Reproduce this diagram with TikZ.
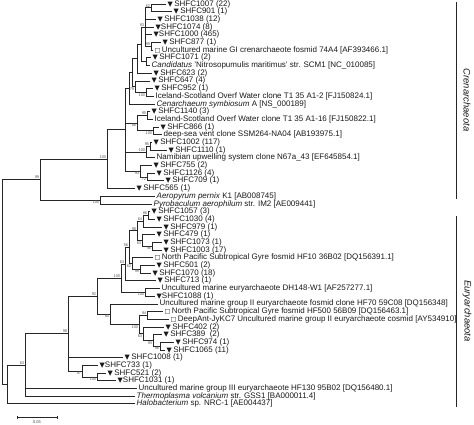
\documentclass[tikz,border=0pt]{standalone}
\usepackage{fontspec}
\setmainfont{Liberation Sans}
\newfontfamily\symf{DejaVu Sans}
\usetikzlibrary{calc}
\newcommand\mytri{{\symf\fontsize{6.8}{6.8}\selectfont ▼}}
\newcommand\mysq{{\symf\fontsize{6.2}{6.2}\selectfont □}}
\newcommand\leaf[4]{\coordinate (l#1) at (#2,#3); \node[lf] (t#1) at (l#1) {#4};}
\newcommand\inode[4]{\path ($(#3)!.5!(#4)$) coordinate (mid); \coordinate (#1) at (#2,0 |- mid);}
\newcommand\edges[2]{\foreach \c in {#2}{\draw[br] (#1) |- (\c);}}
\newcommand\bsl[3]{\node[bs,#2] (b#1) at (#1) {#3};}
\begin{document}
\begin{tikzpicture}[x=1pt,y=-1pt,
  br/.style={line width=0.8pt, draw=black!85},
  lf/.style={anchor=west, inner sep=0pt, xshift=1.5pt, font=\fontsize{8}{8}\selectfont, text=black!90},
  bs/.style={font=\fontsize{4}{4}\selectfont, text=black!65, inner sep=0.6pt},
  clade/.style={rotate=-90, font=\fontsize{9.5}{9.5}\selectfont\itshape, text=black!90, inner sep=0pt}]
\useasboundingbox (0,0) rectangle (474,424);
% ---------- leaves ----------
\leaf{1}{166}{4.00}{\mytri\,SHFC1007 (22)}
\leaf{2}{172}{11.69}{\mytri\,SHFC901 (1)}
\leaf{3}{156}{19.38}{\mytri\,SHFC1038 (12)}
\leaf{4}{154}{27.07}{\mytri SHFC1074 (8)}
\leaf{5}{152}{34.76}{\mytri SHFC1000 (465)}
\leaf{6}{161}{42.45}{\mytri\,SHFC877 (1)}
\leaf{7}{153}{50.14}{\mysq\,Uncultured marine GI crenarchaeote fosmid 74A4 [AF393466.1]}
\leaf{8}{151}{57.83}{\mytri\,SHFC1071 (2)}
\leaf{9}{150}{65.52}{\textit{Candidatus} 'Nitrosopumulis maritimus' str. SCM1 [NC\_010085]}
\leaf{10}{152}{73.21}{\mytri\,SHFC623 (2)}
\leaf{11}{150}{80.90}{\mytri\,SHFC647 (4)}
\leaf{12}{153}{88.59}{\mytri\,SHFC952 (1)}
\leaf{13}{154}{96.28}{Iceland-Scotland Overf Water clone T1 35 A1-2 [FJ150824.1]}
\leaf{14}{155}{103.97}{\textit{Cenarchaeum symbiosum} A [NS\_000189]}
\leaf{15}{150}{111.66}{\mytri\,SHFC1140 (3)}
\leaf{16}{153}{119.35}{Iceland-Scotland Overf Water clone T1 35 A1-16 [FJ150822.1]}
\leaf{17}{159}{127.04}{\mytri\,SHFC866 (1)}
\leaf{18}{162}{134.73}{deep-sea vent clone SSM264-NA04 [AB193975.1]}
\leaf{19}{152}{142.42}{\mytri\,SHFC1002 (117)}
\leaf{20}{167}{150.11}{\mytri\,SHFC1110 (1)}
\leaf{21}{155}{157.80}{Namibian upwelling system clone N67a\_43 [EF645854.1]}
\leaf{22}{152}{165.49}{\mytri\,SHFC755 (2)}
\leaf{23}{155}{173.18}{\mytri\,SHFC1126 (4)}
\leaf{24}{164}{180.87}{\mytri\,SHFC709 (1)}
\leaf{25}{135}{188.56}{\mytri\,SHFC565 (1)}
\leaf{26}{155}{196.25}{\textit{Aeropyrum pernix} K1 [AB008745]}
\leaf{27}{152}{203.94}{\textit{Pyrobaculum aerophilum} str. IM2 [AE009441]}
\leaf{28}{150}{211.63}{\mytri\,SHFC1057 (3)}
\leaf{29}{155}{219.32}{\mytri\,SHFC1030 (4)}
\leaf{30}{162}{227.01}{\mytri\,SHFC979 (1)}
\leaf{31}{155}{234.70}{\mytri\,SHFC479 (1)}
\leaf{32}{162}{242.39}{\mytri\,SHFC1073 (1)}
\leaf{33}{162}{250.08}{\mytri\,SHFC1003 (17)}
\leaf{34}{153}{257.77}{\mysq\,North Pacific Subtropical Gyre fosmid HF10 36B02 [DQ156391.1]}
\leaf{35}{155}{265.46}{\mytri\,SHFC501 (2)}
\leaf{36}{151}{273.15}{\mytri\,SHFC1070 (18)}
\leaf{37}{156}{280.84}{\mytri\,SHFC713 (1)}
\leaf{38}{160}{288.53}{Uncultured marine euryarchaeote DH148-W1 [AF257277.1]}
\leaf{39}{155}{296.22}{\mytri SHFC1088 (1)}
\leaf{40}{158}{303.91}{Uncultured marine group II euryarchaeote fosmid clone HF70 59C08 [DQ156348]}
\leaf{41}{163}{311.60}{\mysq\,North Pacific Subtropical Gyre fosmid HF500 56B09 [DQ156463.1]}
\leaf{42}{169}{319.29}{\mysq\,DeepAnt-JyKC7 Uncultured marine group II euryarchaeote cosmid [AY534910]}
\leaf{43}{164}{326.98}{\mytri\,SHFC402 (2)}
\leaf{44}{162}{334.67}{\mytri\,SHFC389\ \ (2)}
\leaf{45}{174}{342.36}{\mytri\,SHFC974 (1)}
\leaf{46}{165}{350.05}{\mytri\,SHFC1065 (11)}
\leaf{47}{123}{357.74}{\mytri\,SHFC1008 (1)}
\leaf{48}{98}{365.43}{\mytri SHFC733 (1)}
\leaf{49}{106}{373.12}{\mytri\,SHFC521 (2)}
\leaf{50}{116}{380.81}{\mytri SHFC1031 (1)}
\leaf{51}{137}{388.50}{Uncultured marine group III euryarchaeote HF130 95B02 [DQ156480.1]}
\leaf{52}{135}{396.19}{\textit{Thermoplasma volcanium} str. GSS1 [BA000011.4]}
\leaf{53}{135}{403.88}{\textit{Halobacterium} sp. NRC-1 [AE004437]}
% ---------- internal nodes: Crenarchaeota ----------
\inode{n62}{151}{l1}{l2}
\inode{n99g}{151}{l6}{l7}
\inode{n83}{145}{n62}{n99g}
\inode{nCa}{146}{l8}{l9}
\inode{nX}{141}{n83}{nCa}
\inode{nY}{137}{nX}{l10}
\inode{n100i}{146}{l12}{l13}
\inode{n79}{135}{l11}{n100i}
\inode{nZ}{132}{nY}{n79}
\inode{nT}{129}{nZ}{l14}
\inode{n95a}{147}{l15}{l16}
\inode{n100b}{153}{l17}{l18}
\inode{n86}{137}{n95a}{n100b}
\inode{n95b}{150}{l19}{l20}
\inode{n100n}{146}{n95b}{l21}
\inode{n72}{147}{l23}{l24}
\inode{n93}{140}{l22}{n72}
\inode{nBig}{125}{nT}{n93}
\inode{n100C}{107}{nBig}{l25}
\inode{nAP}{100}{l26}{l27}
\inode{nC}{40}{n100C}{nAP}
% ---------- internal nodes: Euryarchaeota ----------
\inode{n86e}{148}{l28}{l29}
\inode{n64}{143}{n86e}{l30}
\inode{n96}{152}{l32}{l33}
\inode{n63a}{142}{l31}{n96}
\inode{n98x}{137}{n64}{n63a}
\inode{n99e}{140}{l35}{l36}
\inode{n62e}{132}{l34}{n99e}
\inode{n56}{129}{n98x}{n62e}
\inode{n63b}{125}{n56}{l37}
\inode{n100c}{145}{l38}{l39}
\inode{n100}{121}{n63b}{n100c}
\inode{n94}{147}{l41}{l42}
\inode{n96e}{160}{l45}{l46}
\inode{n93e}{153}{l44}{n96e}
\inode{n63c}{143}{l43}{n93e}
\inode{n100e}{139}{n94}{n63c}
\inode{n80}{110}{l40}{n100e}
\inode{n92}{97}{n100}{n80}
\inode{n100d}{97}{l49}{l50}
\inode{n97}{82}{l48}{n100d}
\inode{n98e}{68}{n92}{n97}
\inode{n63e}{25}{n98e}{l52}
\inode{nH}{7}{n63e}{l53}
\inode{root}{2}{nC}{nH}
% ---------- branches ----------
\edges{n62}{l1,l2}
\edges{n99g}{l6,l7}
\edges{n83}{n62,l3,l4,l5,n99g}
\edges{nCa}{l8,l9}
\edges{nX}{n83,nCa}
\edges{nY}{nX,l10}
\edges{n100i}{l12,l13}
\edges{n79}{l11,n100i}
\edges{nZ}{nY,n79}
\edges{nT}{nZ,l14}
\edges{n95a}{l15,l16}
\edges{n100b}{l17,l18}
\edges{n86}{n95a,n100b}
\edges{n95b}{l19,l20}
\edges{n100n}{n95b,l21}
\edges{n72}{l23,l24}
\edges{n93}{l22,n72}
\edges{nBig}{nT,n86,n100n,n93}
\edges{n100C}{nBig,l25}
\edges{nAP}{l26,l27}
\edges{nC}{n100C,nAP}
\edges{n86e}{l28,l29}
\edges{n64}{n86e,l30}
\edges{n96}{l32,l33}
\edges{n63a}{l31,n96}
\edges{n98x}{n64,n63a}
\edges{n99e}{l35,l36}
\edges{n62e}{l34,n99e}
\edges{n56}{n98x,n62e}
\edges{n63b}{n56,l37}
\edges{n100c}{l38,l39}
\edges{n100}{n63b,n100c}
\edges{n94}{l41,l42}
\edges{n96e}{l45,l46}
\edges{n93e}{l44,n96e}
\edges{n63c}{l43,n93e}
\edges{n100e}{n94,n63c}
\edges{n80}{l40,n100e}
\edges{n92}{n100,n80}
\edges{n100d}{l49,l50}
\edges{n97}{l48,n100d}
\edges{n98e}{n92,l47,n97}
\edges{n63e}{n98e,l51,l52}
\edges{nH}{n63e,l53}
\edges{root}{nC,nH}
% ---------- bootstrap values ----------
\bsl{n62}{above left}{62}
\bsl{n83}{above left}{83}
\bsl{n99g}{above left}{99}
\bsl{n79}{below left}{79}
\bsl{n100i}{below left}{100}
\bsl{n95a}{above left}{95}
\bsl{n86}{below left}{86}
\bsl{n100b}{below left}{100}
\bsl{n95b}{above left}{95}
\bsl{n100n}{above left}{100}
\bsl{n93}{below left}{93}
\bsl{n72}{below left}{72}
\bsl{n100C}{above left}{100}
\bsl{nC}{above left}{99}
\bsl{nAP}{below left}{100}
\bsl{n86e}{above left}{86}
\bsl{n64}{above left}{64}
\bsl{n98x}{above left}{98}
\bsl{n63a}{below left}{63}
\bsl{n96}{below left}{96}
\bsl{n56}{above left}{56}
\bsl{n62e}{below left}{62}
\bsl{n99e}{below left}{99}
\bsl{n63b}{above left}{63}
\bsl{n100}{above left}{100}
\bsl{n100c}{below left}{100}
\bsl{n92}{above left}{92}
\bsl{n80}{below left}{80}
\bsl{n94}{above left}{94}
\bsl{n100e}{below left}{100}
\bsl{n63c}{below left}{63}
\bsl{n93e}{below left}{93}
\bsl{n96e}{below left}{96}
\bsl{n98e}{above left}{98}
\bsl{n97}{below left}{97}
\bsl{n100d}{below left}{100}
\bsl{n63e}{above left}{63}
% ---------- clade bars ----------
\coordinate (cA1) at (456,2);
\coordinate (cA2) at (456,199);
\coordinate (cB1) at (456,216);
\coordinate (cB2) at (456,407);
\draw[br] (cA1) -- (cA2);
\draw[br] (cB1) -- (cB2);
\node[clade] (cren) at (467,100) {Crenarchaeota};
\node[clade] (eury) at (467,311) {Euryarchaeota};
% ---------- scale bar ----------
\coordinate (sb1) at (17,417);
\coordinate (sb2) at (57,417);
\draw[line width=0.6pt, draw=black!85] (sb1) -- (sb2);
\draw[line width=0.6pt, draw=black!85] ($(sb1)+(0,-1.5)$) -- ($(sb1)+(0,1.5)$);
\draw[line width=0.6pt, draw=black!85] ($(sb2)+(0,-1.5)$) -- ($(sb2)+(0,1.5)$);
\node[bs, text=black!75] (sbl) at ($(sb1)!.5!(sb2)+(0,5)$) {0.05};
\end{tikzpicture}
\end{document}
